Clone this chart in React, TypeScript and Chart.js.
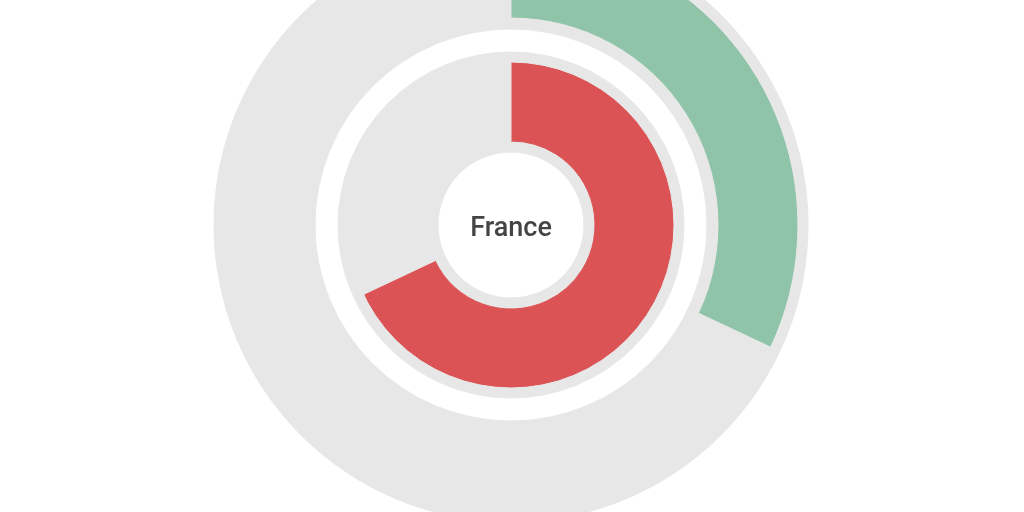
import { useEffect, useRef } from 'react'
import { Chart, registerables } from 'chart.js'
Chart.register(...registerables)

const CENTER_LABEL = 'France'
const SERIES = ['Outer', 'Inner']
const VALUES = [32, 68]
const MAX = 100
const COLORS = ['#8fc4a9', '#dc5355']
const GREY = '#e7e7e7'

// outer edge and hole of the whole doughnut, px
const OUTER_R = 297
const INNER_R = 73

export default function App() {
  const ref = useRef<HTMLCanvasElement>(null)

  useEffect(() => {
    if (!ref.current) return
    // thin grey rims and a clear gap are extra rings, weights are their widths in px
    const rim = (w: number) => ({ data: [1, 0], backgroundColor: [GREY, GREY], borderColor: [GREY, GREY], borderWidth: 1, weight: w })
    const gap = (w: number) => ({ data: [1, 0], backgroundColor: ['rgba(0,0,0,0)', 'rgba(0,0,0,0)'], borderWidth: 0, weight: w })
    const ring = (i: number) => ({
      label: SERIES[i],
      data: [VALUES[i], MAX - VALUES[i]],
      backgroundColor: [COLORS[i], GREY],
      borderColor: [COLORS[i], GREY],
      borderWidth: 1,
      weight: 79,
    })

    const chart = new Chart(ref.current, {
      type: 'doughnut',
      data: {
        labels: ['value', 'rest'],
        datasets: [rim(10), ring(0), rim(12), gap(23), rim(10), ring(1), rim(11)] as never,
      },
      options: {
        animation: false,
        responsive: true,
        maintainAspectRatio: false,
        radius: OUTER_R,
        cutout: (INNER_R / OUTER_R * 100) + '%',
        layout: { padding: { right: 2, bottom: 62 } },
        plugins: { legend: { display: false }, tooltip: { enabled: false } },
      },
    })
    return () => chart.destroy()
  }, [])

  return (
    <div style={{ position: 'fixed', left: 0, top: 0, width: 1024, height: 512, background: '#fff' }}>
      <canvas ref={ref} />
      <div style={{ position: 'absolute', left: 0, top: 2, width: 1022, height: 450, display: 'flex', alignItems: 'center', justifyContent: 'center', fontFamily: 'Roboto', fontWeight: 500, fontSize: 27, color: '#444', pointerEvents: 'none' }}>
        {CENTER_LABEL}
      </div>
    </div>
  )
}
